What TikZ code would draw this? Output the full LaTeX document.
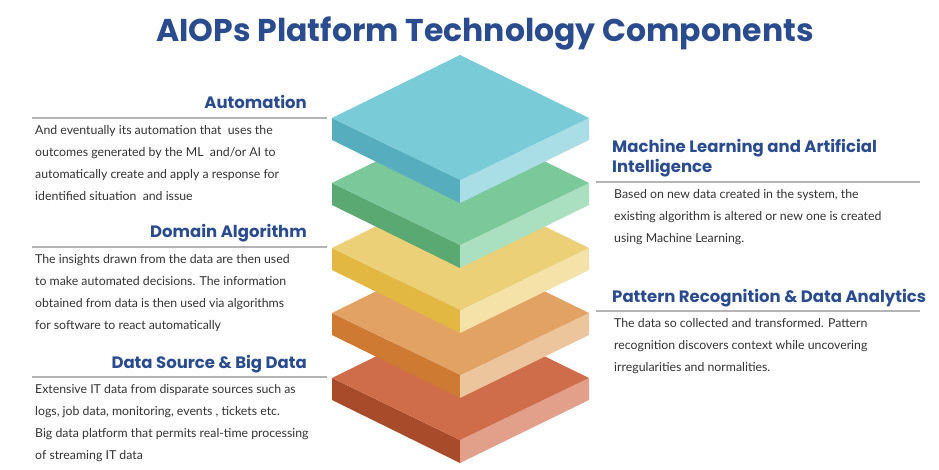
\documentclass[tikz,border=0pt]{standalone}
\usepackage{fontspec}
\setmainfont{Lato}
\newfontfamily\headfont{Poppins}
\definecolor{headblue}{HTML}{2A4C8E}
\definecolor{bodygray}{HTML}{333333}
\definecolor{rulegray}{HTML}{B4B4B4}
\begin{document}
\begin{tikzpicture}[x=1pt,y=-1pt,
  heading/.style={font=\headfont\bfseries\fontsize{16.5}{20}\selectfont, text=headblue, inner sep=0pt},
  body/.style={font=\fontsize{12.3}{22}\selectfont, text=bodygray, align=left, inner sep=0pt, anchor=north west},
  rule/.style={rulegray, line width=2.5pt}]
\useasboundingbox (0,0) rectangle (939,470);
% Title
\node [font=\headfont\bfseries\fontsize{31.5}{36}\selectfont, text=headblue, anchor=base] (title) at (485,42) {AIOPs Platform Technology Components};
% The stacked slabs, bottom one first
\foreach \L/\top/\lft/\rgt in {
  378/CF6C4A/A84B2B/E2A08A,
  313/E2A264/CF7A33/ECC59C,
  248/ECD077/E2B843/F4E2A8,
  183/7BC99A/5AA872/AADFC0,
  118/79CBD8/55ADBD/A9DEE7} {
  \definecolor{ctop}{HTML}{\top}
  \definecolor{clft}{HTML}{\lft}
  \definecolor{crgt}{HTML}{\rgt}
  \fill [clft] (332,\L) -- (460,\L+62) -- (460,\L+85) -- (332,\L+22) -- cycle;
  \fill [crgt] (589,\L) -- (460,\L+62) -- (460,\L+85) -- (589,\L+22) -- cycle;
  \fill [ctop] (332,\L) -- (460,\L-63) -- (589,\L) -- (460,\L+62) -- cycle;
}
% Left side
\coordinate (autoA) at (32,118);
\coordinate (autoB) at (327,118);
\draw [rule] (autoA) -- (autoB);
\node [heading, anchor=base east] (auto) at (307,109) {Automation};
\node [body] (autotext) at (35,125) {And eventually its automation that\ \ uses the\\outcomes generated by the ML\ \ and/or AI to\\automatically create and apply a response for\\identified situation\ \ and issue};
\coordinate (algoA) at (32,247);
\coordinate (algoB) at (327,247);
\draw [rule] (algoA) -- (algoB);
\node [heading, anchor=base east] (algo) at (307,238) {Domain Algorithm};
\node [body] (algotext) at (35,254) {The insights drawn from the data are then used\\to make automated decisions. The information\\obtained from data is then used via algorithms\\for software to react automatically};
\coordinate (dataA) at (32,377);
\coordinate (dataB) at (327,377);
\draw [rule] (dataA) -- (dataB);
\node [heading, anchor=base east] (data) at (307,368) {Data Source \& Big Data};
\node [body] (datatext) at (35,384) {Extensive IT data from disparate sources such as\\logs, job data, monitoring, events , tickets etc.\\Big data platform that permits real-time processing\\of streaming IT data};
% Right side
\coordinate (mlA) at (596,182);
\coordinate (mlB) at (920,182);
\draw [rule] (mlA) -- (mlB);
\node [heading, anchor=base west, align=left] (ml) at (612,173) {Machine Learning and Artificial\\Intelligence};
\node [body] (mltext) at (614,189) {Based on new data created in the system, the\\existing algorithm is altered or new one is created\\using Machine Learning.};
\coordinate (patA) at (596,311);
\coordinate (patB) at (920,311);
\draw [rule] (patA) -- (patB);
\node [heading, anchor=base west] (pat) at (612,302) {Pattern Recognition \& Data Analytics};
\node [body] (pattext) at (614,318) {The data so collected and transformed. Pattern\\recognition discovers context while uncovering\\irregularities and normalities.};
\end{tikzpicture}
\end{document}
